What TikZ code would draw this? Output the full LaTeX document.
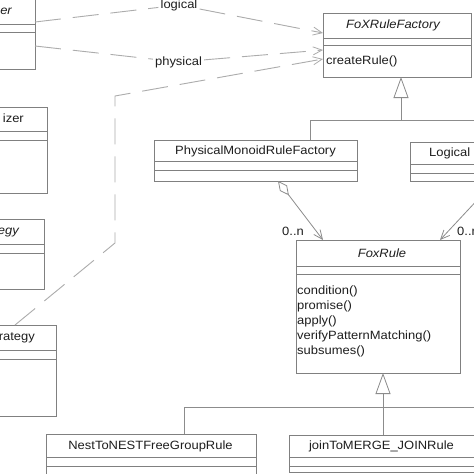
\documentclass[tikz,border=0pt]{standalone}
\usepackage{fontspec}
\setmainfont{Liberation Sans}[FakeStretch=1.08]
\usetikzlibrary{arrows.meta,calc}
\definecolor{boxc}{RGB}{128,128,128}
\definecolor{connc}{RGB}{140,140,140}
\definecolor{depc}{RGB}{172,172,172}
\definecolor{txtc}{RGB}{30,30,30}
\newcommand\umlbox[7]{%
  \node[cls, minimum width={#4-#2}, minimum height={#5-#3}] (#1) at (#2,#3) {};
  \draw[boxc, line width=0.8pt] (#2,#6) -- (#4,#6) (#2,#7) -- (#4,#7);
}
\begin{document}
\begin{tikzpicture}[x=1pt,y=-1pt,
  cls/.style={draw=boxc, fill=white, line width=0.8pt, inner sep=0pt, outer sep=0pt, anchor=north west},
  txt/.style={text=txtc, inner sep=0pt, font=\fontsize{12}{14}\selectfont},
  lbl/.style={txt, inner sep=2pt},
  dep/.style={draw=depc, line width=0.9pt, dash pattern=on 26pt off 12pt, -{Straight Barb[length=9pt,width=8pt,line width=0.8pt]}},
  conn/.style={draw=connc, line width=0.8pt},
  gen/.style={conn, -{Triangle[open,length=21pt,width=15pt,line width=0.8pt]}},
  agg/.style={conn, {Diamond[open,length=18pt,width=9pt,line width=0.8pt]}-{Straight Barb[length=9pt,width=8pt,line width=0.8pt]}}
]
\useasboundingbox (0,0) rectangle (474,474);
\fill[white] (0,0) rectangle (474,474);

% boxes
\umlbox{boxa}{-80}{-2}{35}{69}{24}{32}
\umlbox{boxb}{-80}{107}{47}{193}{131}{140}
\umlbox{boxc}{-80}{219}{44}{289}{244}{253}
\umlbox{boxd}{-80}{325}{56}{416}{350}{359}
\umlbox{frf}{323}{13}{471}{77}{38}{45}
\umlbox{phy}{154}{140}{357}{181}{161}{170}
\umlbox{log}{410}{142}{613}{181}{164}{173}
\umlbox{fox}{296}{240}{460}{373}{266}{274}
\umlbox{nest}{46}{434}{256}{500}{457}{466}
\umlbox{join}{289}{435}{476}{472}{457}{466}

% texts
\node[txt, anchor=east] (ta) at (12,11) {\itshape er};
\node[txt, anchor=east] (tb) at (24,118) {izer};
\node[txt, anchor=east] (tc) at (19,233) {\itshape egy};
\node[txt, anchor=east] (td) at (35,338) {rategy};
\node[txt] (tfrf) at (393,25) {\itshape FoXRuleFactory};
\node[txt, anchor=west] (mfrf) at (326,61) {createRule()};
\node[txt] (tphy) at (255.5,151) {PhysicalMonoidRuleFactory};
\node[txt, anchor=west] (tlog) at (429,153) {Logical};
\node[txt] (tfox) at (382,253) {\itshape FoxRule};
\node[txt, anchor=west] (m1) at (297,291) {condition()};
\node[txt, anchor=west] (m2) at (297,306) {promise()};
\node[txt, anchor=west] (m3) at (297,321) {apply()};
\node[txt, anchor=west] (m4) at (297,336) {verifyPatternMatching()};
\node[txt, anchor=west] (m5) at (297,351) {subsumes()};
\node[txt] (tnest) at (150.5,446) {NestToNESTFreeGroupRule};
\node[txt] (tjoin) at (381.5,446) {joinToMERGE\_JOINRule};

% dependency lines
\coordinate (a1) at (35,22);
\coordinate (a2) at (35,46);
\coordinate (f1) at (323,33);
\coordinate (f2) at (323,50);
\coordinate (f3) at (323,59);
\node[lbl] (lg) at (179,5) {logical};
\node[lbl] (ph) at (178.5,62) {physical};
\draw[dep] (a1) -- (lg) -- (f1);
\draw[dep] (a2) -- (ph) -- (f2);
\coordinate (d1) at (15,325);
\coordinate (k1) at (115,243);
\coordinate (k2) at (115,96);
\draw[dep] (d1) -- (k1) -- (k2) -- (f3);

% generalization to FoXRuleFactory
\coordinate (frfb) at (401,77);
\coordinate (j1) at (401,120);
\coordinate (phyt) at (310,140);
\coordinate (logt) at (511,142);
\draw[conn] (phyt) -- (phyt |- j1) -- (logt |- j1) -- (logt);
\draw[gen] (j1) -- (frfb);

% aggregations
\coordinate (phyb) at (278,181);
\coordinate (foxa) at (323,240);
\coordinate (logb) at (495,181);
\coordinate (foxc) at (440,240);
\draw[agg] (phyb) -- (foxa);
\draw[agg] (logb) -- (foxc);
\node[txt] (n1) at (293,231) {0..n};
\node[txt, anchor=west] (n2) at (457,231) {0..n};

% generalization to FoxRule
\coordinate (foxb) at (383,373);
\coordinate (joint) at (383,435);
\coordinate (nestt) at (184,434);
\coordinate (hr) at (490,407);
\draw[conn] (nestt) |- (hr);
\draw[gen] (joint) -- (foxb);
\end{tikzpicture}
\end{document}
